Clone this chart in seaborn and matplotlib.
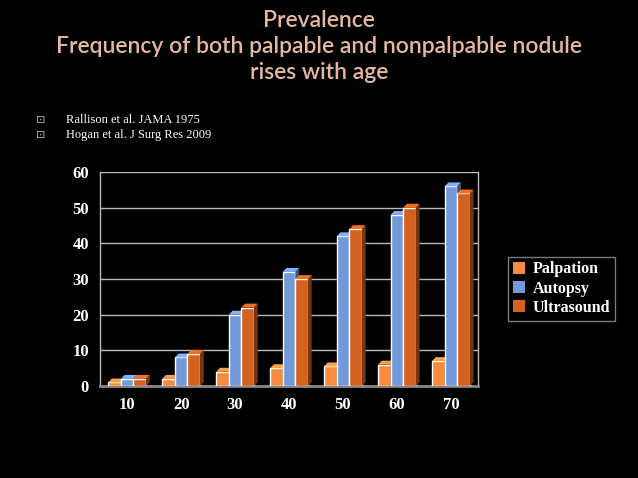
import pandas as pd
import numpy as np
import matplotlib
matplotlib.use('Agg')
import matplotlib.pyplot as plt
import matplotlib.colors as mcolors
from matplotlib.patches import Polygon
import seaborn as sns

# Datos
ages = ['10', '20', '30', '40', '50', '60', '70']
palpation = [1, 2, 4, 5, 5.5, 6, 7]
autopsy = [2, 8, 20, 32, 42, 48, 56]
ultrasound = [2, 9, 22, 30, 44, 50, 54]
series_names = ['Palpation', 'Autopsy', 'Ultrasound']
colors = {'Palpation': '#F98B3F', 'Autopsy': '#7299DA', 'Ultrasound': '#D5611E'}

title_lines = ['Prevalence',
               'Frequency of both palpable and nonpalpable nodule',
               'rises with age']
refs = ['Rallison et al. JAMA 1975', 'Hogan et al. J Surg Res 2009']

df = pd.DataFrame({
    'Age': ages * 3,
    'Value': palpation + autopsy + ultrasound,
    'Serie': [s for s in series_names for _ in ages],
})

sns.set_style('dark')
plt.rcParams['font.family'] = ['Liberation Serif', 'DejaVu Serif']

fig = plt.figure(figsize=(6.38, 4.78), dpi=100, facecolor='black')
ax = fig.add_axes([0.157, 0.1925, 0.592, 0.4475])
ax.set_facecolor('black')

sns.barplot(data=df, x='Age', y='Value', hue='Serie', palette=colors,
            width=0.7, saturation=1, ax=ax, legend=False, zorder=3)

ax.set_ylim(0, 60)
ax.set_xlim(-0.5, 6.5)

# efecto 3D simple a partir de las barras dibujadas
dx, dy = 0.07, 1.1
bars = [p for p in ax.patches if p.get_height() > 0]
bars.sort(key=lambda p: p.get_x())
for i, p in enumerate(bars):
    h = p.get_height()
    x0 = p.get_x()
    x1 = x0 + p.get_width()
    z = 3 + i * 0.01
    p.set_zorder(z)
    c = np.array(mcolors.to_rgb(p.get_facecolor()))
    side = c * 0.55
    top = np.clip(c * 1.15, 0, 1)
    ax.add_patch(Polygon([(x1, 0), (x1 + dx, dy), (x1 + dx, h + dy), (x1, h)],
                         closed=True, facecolor=side, edgecolor='none', zorder=z))
    ax.add_patch(Polygon([(x0, h), (x0 + dx, h + dy), (x1 + dx, h + dy), (x1, h)],
                         closed=True, facecolor=top, edgecolor='none', zorder=z))

ax.set_yticks([0, 10, 20, 30, 40, 50, 60])
ax.yaxis.grid(True, color='#BBBBBB', linewidth=1, zorder=0)
ax.xaxis.grid(False)
ax.set_xlabel('')
ax.set_ylabel('')
ax.tick_params(axis='both', colors='white', labelsize=12, length=0, pad=8)
for lab in ax.get_xticklabels() + ax.get_yticklabels():
    lab.set_fontweight('bold')
    lab.set_color('white')
for side_name in ['left', 'right']:
    ax.spines[side_name].set_visible(True)
    ax.spines[side_name].set_color('#BBBBBB')
    ax.spines[side_name].set_linewidth(1)
ax.spines['top'].set_visible(False)
ax.spines['bottom'].set_visible(True)
ax.spines['bottom'].set_color('#888888')
ax.spines['bottom'].set_linewidth(2)

handles = [plt.Rectangle((0, 0), 1, 1, facecolor=colors[s], edgecolor='none') for s in series_names]
leg = fig.legend(handles, series_names, loc='upper left', bbox_to_anchor=(0.797, 0.463),
                 frameon=True, fancybox=False, handlelength=0.75, handleheight=0.75,
                 handletextpad=0.45, borderpad=0.3, labelspacing=0.2, borderaxespad=0,
                 prop={'family': 'Liberation Serif', 'weight': 'bold', 'size': 11.5})
leg.get_frame().set_facecolor('black')
leg.get_frame().set_edgecolor('#999999')
for t in leg.get_texts():
    t.set_color('white')

# titulo
title_y = [0.958, 0.902, 0.848]
for line, y in zip(title_lines, title_y):
    fig.text(0.5, y, line, ha='center', va='center', color='#E5B89E',
             fontsize=16.5, family=['Lato', 'DejaVu Sans'], fontweight='semibold')

# referencias
for ref, y in zip(refs, [0.749, 0.717]):
    fig.text(0.064, y, '\u22a1', ha='center', va='center', color='#BBBBBB',
             fontsize=8, family=['DejaVu Sans'])
    fig.text(0.103, y, ref, ha='left', va='center', color='white',
             fontsize=9, family=['Liberation Serif', 'DejaVu Serif'])

fig.savefig('out.png', dpi=100, facecolor='black')
